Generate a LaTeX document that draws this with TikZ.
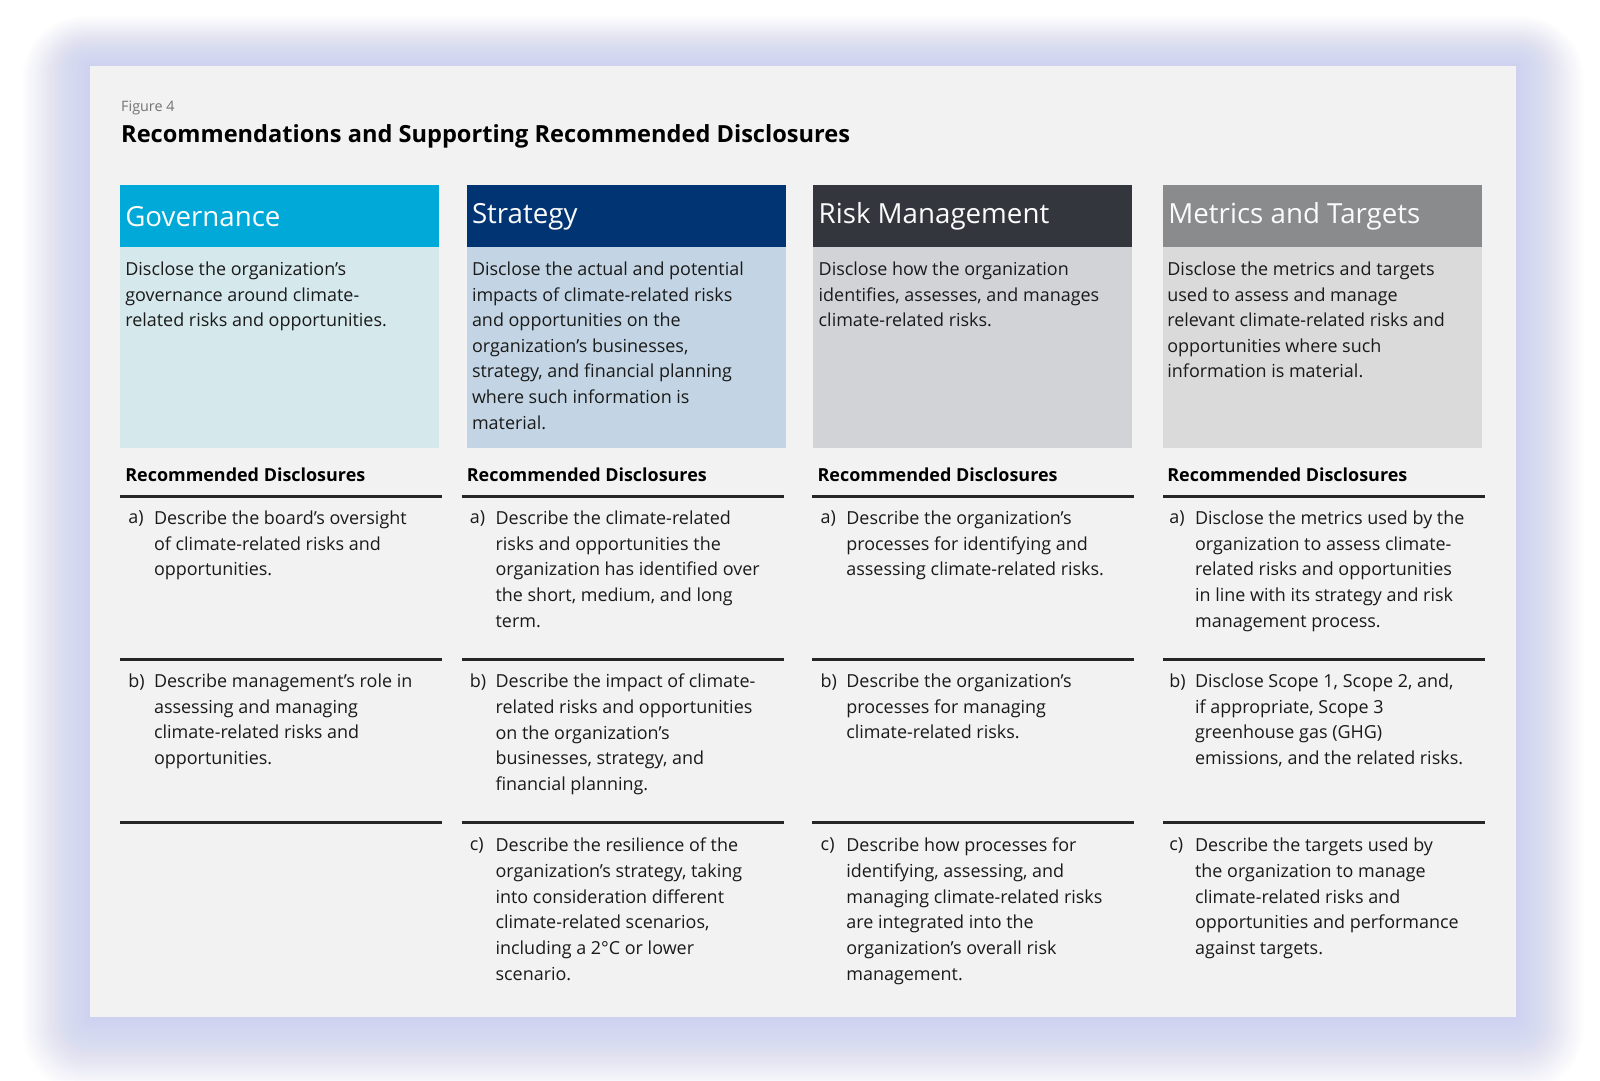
\documentclass[tikz,border=0pt]{standalone}
\usepackage{fontspec}
\setmainfont{Open Sans}
\definecolor{panel}{HTML}{F2F2F2}
\definecolor{glow}{HTML}{9AA2F0}
\definecolor{govh}{HTML}{00A9D8}\definecolor{govb}{HTML}{D5E8EC}
\definecolor{strh}{HTML}{003473}\definecolor{strb}{HTML}{C3D5E4}
\definecolor{riskh}{HTML}{34363E}\definecolor{riskb}{HTML}{D2D3D7}
\definecolor{meth}{HTML}{898B8D}\definecolor{metb}{HTML}{DADADA}
\definecolor{txt}{HTML}{1A1A1A}
\tikzset{
 x=1pt,y=-1pt,
 head/.style={anchor=west,inner sep=0pt,text=white!97!gray,font=\fontsize{27}{32}\selectfont},
 body/.style={anchor=north west,inner sep=0pt,align=left,text=txt,font=\fontsize{17.5}{25}\selectfont},
 item/.style={anchor=north west,inner sep=0pt,align=left,text=txt,font=\fontsize{17.5}{25}\selectfont},
 lett/.style={anchor=north west,inner sep=0pt,text=txt,font=\fontsize{17.5}{25}\selectfont},
 rec/.style={anchor=west,inner sep=0pt,text=black,font=\bfseries\fontsize{17.5}{22}\selectfont},
 rule/.style={line width=2.5pt,black!85},
}
\begin{document}
\begin{tikzpicture}
\useasboundingbox (0,0) rectangle (1560,1053);
\fill[white] (0,0) rectangle (1560,1053);
\foreach \i in {1,...,30}{
  \fill[glow,opacity=0.016,rounded corners=\i*2pt] (88-\i*2.2,64-\i*1.6) rectangle (1478+\i*2.2,992+\i*2.4);
}
\fill[panel] (88,64) rectangle (1478,992);
\node[anchor=west,inner sep=0pt,text=black!55,font=\fontsize{14}{16}\selectfont] (fig) at (118,105) {Figure 4};
\node[anchor=west,inner sep=0pt,font=\bfseries\fontsize{23}{28}\selectfont] (ttl) at (118,133) {Recommendations and Supporting Recommended Disclosures};
\foreach \x/\hc/\bc in {117/govh/govb,455/strh/strb,793/riskh/riskb,1134/meth/metb}{
  \fill[\hc] (\x,180) rectangle (\x+311,241);
  \fill[\bc] (\x,241) rectangle (\x+311,437);
}
\node[head] (hg) at (122,211) {Governance};
\node[head] (hs) at (460,211) {Strategy};
\node[head] (hr) at (798,211) {Risk Management};
\node[head] (hm) at (1139,211) {Metrics and Targets};
\node[body] (bg) at (122,255) {Disclose the organization’s\\governance around climate-\\related risks and opportunities.};
\node[body] (bs) at (460,255) {Disclose the actual and potential\\impacts of climate-related risks\\and opportunities on the\\organization’s businesses,\\strategy, and financial planning\\where such information is\\material.};
\node[body] (br) at (798,255) {Disclose how the organization\\identifies, assesses, and manages\\climate-related risks.};
\node[body] (bm) at (1138,255) {Disclose the metrics and targets\\used to assess and manage\\relevant climate-related risks and\\opportunities where such\\information is material.};
\foreach \x/\n in {122/1,455/2,797/3,1138/4}{
  \node[rec] (rec\n) at (\x,463) {Recommended Disclosures};
}
\foreach \x in {117,450,792,1134}{
  \foreach \y in {484,643,802}{
    \draw[rule] (\x,\y) -- (\x+314,\y);
  }
}
\newcommand{\itm}[4]{\node[lett] at (#1,#2) {#3)}; \node[item] at (#1+25,#2) {#4};}
\itm{125}{498}{a}{Describe the board’s oversight\\of climate-related risks and\\opportunities.}
\itm{125}{657}{b}{Describe management’s role in\\assessing and managing\\climate-related risks and\\opportunities.}
\itm{458}{498}{a}{Describe the climate-related\\risks and opportunities the\\organization has identified over\\the short, medium, and long\\term.}
\itm{458}{657}{b}{Describe the impact of climate-\\related risks and opportunities\\on the organization’s\\businesses, strategy, and\\financial planning.}
\itm{458}{817}{c}{Describe the resilience of the\\organization’s strategy, taking\\into consideration different\\climate-related scenarios,\\including a 2°C or lower\\scenario.}
\itm{800}{498}{a}{Describe the organization’s\\processes for identifying and\\assessing climate-related risks.}
\itm{800}{657}{b}{Describe the organization’s\\processes for managing\\climate-related risks.}
\itm{800}{817}{c}{Describe how processes for\\identifying, assessing, and\\managing climate-related risks\\are integrated into the\\organization’s overall risk\\management.}
\itm{1140}{498}{a}{Disclose the metrics used by the\\organization to assess climate-\\related risks and opportunities\\in line with its strategy and risk\\management process.}
\itm{1140}{657}{b}{Disclose Scope 1, Scope 2, and,\\if appropriate, Scope 3\\greenhouse gas (GHG)\\emissions, and the related risks.}
\itm{1140}{817}{c}{Describe the targets used by\\the organization to manage\\climate-related risks and\\opportunities and performance\\against targets.}
\end{tikzpicture}
\end{document}
